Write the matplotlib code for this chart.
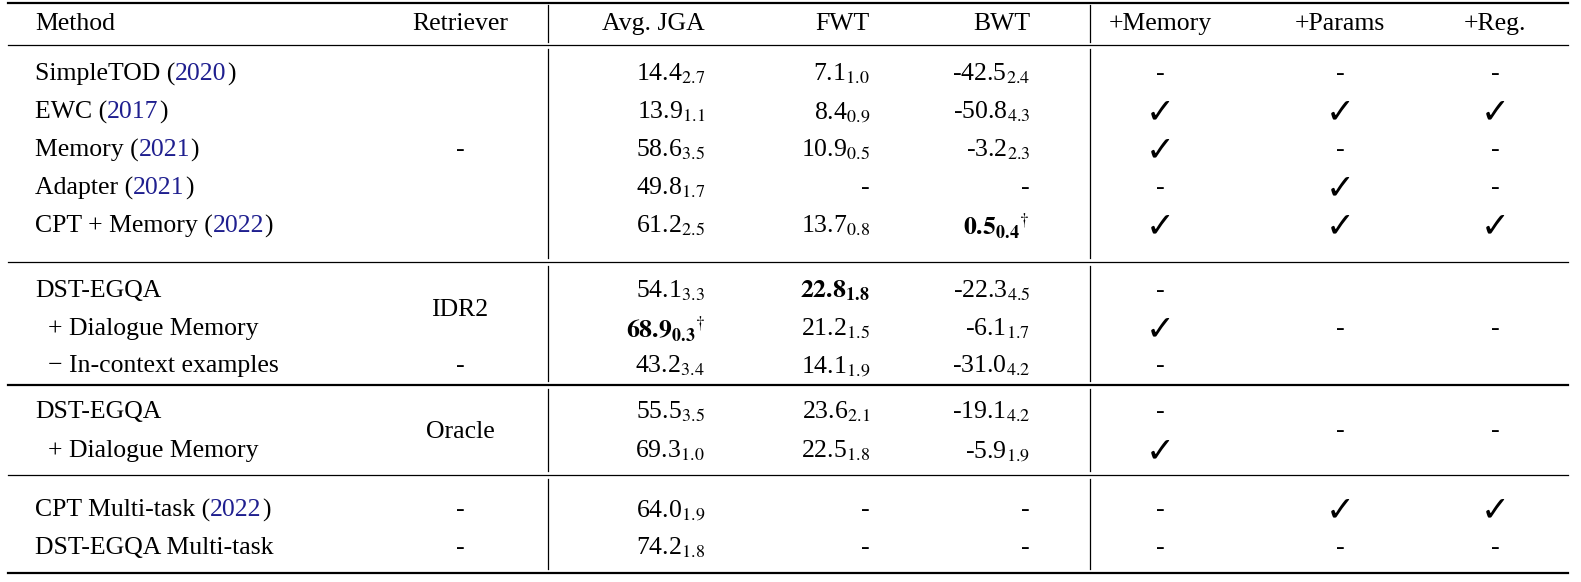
import matplotlib
matplotlib.use("Agg")
import matplotlib.pyplot as plt

plt.rcParams['mathtext.fontset'] = 'stix'
plt.rcParams['font.family'] = ['Liberation Serif', 'DejaVu Serif']

headers = ["Method", "Retriever", "Avg. JGA", "FWT", "BWT", "+Memory", "+Params", "+Reg."]
methods = [("SimpleTOD (", "2020", ")"), ("EWC (", "2017", ")"), ("Memory (", "2021", ")"),
           ("Adapter (", "2021", ")"), ("CPT + Memory (", "2022", ")"),
           ("DST-EGQA", None, None), ("  + Dialogue Memory", None, None), ("  − In-context examples", None, None),
           ("DST-EGQA", None, None), ("  + Dialogue Memory", None, None),
           ("CPT Multi-task (", "2022", ")"), ("DST-EGQA Multi-task", None, None)]
jga = ["14.4$_{2.7}$", "13.9$_{1.1}$", "58.6$_{3.5}$", "49.8$_{1.7}$", "61.2$_{2.5}$",
       "54.1$_{3.3}$", r"$\mathbf{68.9_{0.3}}^{\dagger}$", "43.2$_{3.4}$",
       "55.5$_{3.5}$", "69.3$_{1.0}$", "64.0$_{1.9}$", "74.2$_{1.8}$"]
fwt = ["7.1$_{1.0}$", "8.4$_{0.9}$", "10.9$_{0.5}$", "-", "13.7$_{0.8}$",
       r"$\mathbf{22.8_{1.8}}$", "21.2$_{1.5}$", "14.1$_{1.9}$",
       "23.6$_{2.1}$", "22.5$_{1.8}$", "-", "-"]
bwt = ["-42.5$_{2.4}$", "-50.8$_{4.3}$", "-3.2$_{2.3}$", "-", r"$\mathbf{0.5_{0.4}}^{\dagger}$",
       "-22.3$_{4.5}$", "-6.1$_{1.7}$", "-31.0$_{4.2}$",
       "-19.1$_{4.2}$", "-5.9$_{1.9}$", "-", "-"]
memory = ["-", "✓", "✓", "-", "✓", "-", "✓", "-", "-", "✓", "-", "-"]
params = ["-", "✓", "-", "✓", "✓", None, None, None, None, None, "✓", "-"]
reg = ["-", "✓", "-", "-", "✓", None, None, None, None, None, "✓", "-"]
retriever_cells = [("-", 2), ("IDR2", 5.5), ("-", 7), ("Oracle", 8.5), ("-", 10), ("-", 11)]
merged_pr = [("-", 6), ("-", 8.5)]

row_y = [74, 112, 150, 188, 226, 291, 329, 366, 412, 451, 510, 548]

def ry(i):
    i0 = int(i)
    if i == i0:
        return row_y[i0]
    return (row_y[i0] + row_y[i0 + 1]) / 2

fig = plt.figure(figsize=(15.81, 5.82), dpi=100)
ax = fig.add_axes([0, 0, 1, 1])
ax.set_xlim(0, 1581); ax.set_ylim(582, 0); ax.axis('off')
FS = 18.5
blue = '#1f1f8f'
renderer = fig.canvas.get_renderer()

for y, lw in [(3, 1.6), (45, 0.9), (262, 0.9), (385, 1.6), (475, 0.9), (573, 1.6)]:
    ax.plot([8, 1568], [y, y], color='black', lw=lw)
for x in [548, 1090]:
    for a, b in [(5, 42), (49, 258), (266, 381), (389, 471), (479, 569)]:
        ax.plot([x, x], [a, b], color='black', lw=0.9)

hx = [(35, 'left'), (460, 'center'), (705, 'right'), (870, 'right'), (1030, 'right'),
      (1160, 'center'), (1340, 'center'), (1495, 'center')]
for (x, ha), h in zip(hx, headers):
    ax.text(x, 24, h, ha=ha, va='center', fontsize=FS)

check_kw = dict(fontsize=25, family=['DejaVu Sans'])
for i, y in enumerate(row_y):
    pre, year, post = methods[i]
    t = ax.text(35, y, pre, ha='left', va='center', fontsize=FS)
    if year:
        bb = t.get_window_extent(renderer)
        x1 = ax.transData.inverted().transform((bb.x1, 0))[0]
        t2 = ax.text(x1, y, year, ha='left', va='center', fontsize=FS, color=blue)
        bb2 = t2.get_window_extent(renderer)
        x2 = ax.transData.inverted().transform((bb2.x1, 0))[0]
        ax.text(x2, y, post, ha='left', va='center', fontsize=FS)
    ax.text(705, y, jga[i], ha='right', va='center', fontsize=FS)
    ax.text(870, y, fwt[i], ha='right', va='center', fontsize=FS)
    ax.text(1030, y, bwt[i], ha='right', va='center', fontsize=FS)
    for x, col in [(1160, memory), (1340, params), (1495, reg)]:
        v = col[i]
        if v is None:
            continue
        if v == "✓":
            ax.text(x, y, v, ha='center', va='center', **check_kw)
        else:
            ax.text(x, y, v, ha='center', va='center', fontsize=FS)

for txt, r in retriever_cells:
    ax.text(460, ry(r), txt, ha='center', va='center', fontsize=FS)
for txt, r in merged_pr:
    for x in [1340, 1495]:
        ax.text(x, ry(r), txt, ha='center', va='center', fontsize=FS)

fig.savefig("out.png", dpi=100)
